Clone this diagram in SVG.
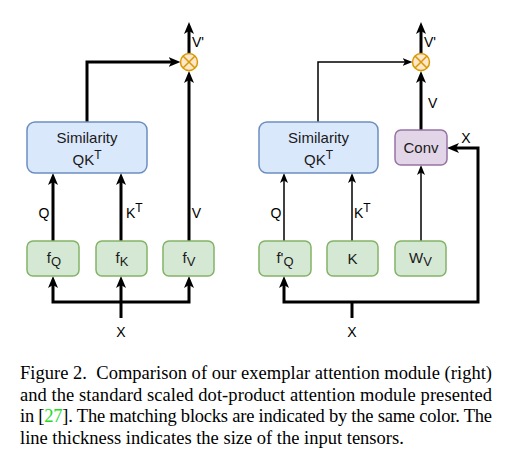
<svg xmlns="http://www.w3.org/2000/svg" width="514" height="459" viewBox="0 0 514 459">
<defs>
<style>
.bl{fill:#dae8fc;stroke:#6c8ebf;stroke-width:1.5}
.gr{fill:#d5e8d4;stroke:#82b366;stroke-width:1.5}
.pu{fill:#e1d5e7;stroke:#9673a6;stroke-width:1.5}
.op{fill:#ffe6cc;stroke:#d79b00;stroke-width:1.5}
.t{font-family:"Liberation Sans",Arial,sans-serif;font-size:15px;fill:#1a1a1a;text-anchor:middle}
.lb{font-family:"Liberation Sans",Arial,sans-serif;font-size:14px;fill:#000}
.th{fill:none;stroke:#000;stroke-width:3}
.tn{fill:none;stroke:#000;stroke-width:1.5}
.ah{marker-end:url(#aT)}
.an{marker-end:url(#aN)}
.cap{font-family:"Liberation Serif","Times New Roman",serif;font-size:18.5px;fill:#000}
</style>
<marker id="aT" viewBox="0 0 12 10" markerWidth="12" markerHeight="10" refX="6" refY="5" orient="auto" markerUnits="userSpaceOnUse"><path d="M0,0 L12,5 L0,10 L3,5 Z" fill="#000"/></marker>
<marker id="aN" viewBox="0 0 10 8" markerWidth="10" markerHeight="8" refX="5" refY="4" orient="auto" markerUnits="userSpaceOnUse"><path d="M0,0 L10,4 L0,8 L2.5,4 Z" fill="#000"/></marker>
</defs>
<rect width="514" height="459" fill="#fff"/>

<g id="connectors">
<path class="th ah" d="M53,241 V179"/>
<path class="th ah" d="M121,241 V179"/>
<path class="th ah" d="M189,241 V77"/>
<path class="th ah" d="M87,122 V62 H174.5"/>
<path class="th ah" d="M189,53.5 V28"/>
<path class="th ah" d="M121,318 V282"/>
<path class="th ah" d="M121,302 H53 V282"/>
<path class="th ah" d="M121,302 H189 V282"/>
<path class="tn an" d="M284,241 V178"/>
<path class="tn an" d="M352,241 V178"/>
<path class="tn an" d="M421,241 V170"/>
<path class="tn an" d="M318,122 V62 H407.5"/>
<path class="th ah" d="M421,130 V77"/>
<path class="th ah" d="M421,53.5 V28"/>
<path class="th" d="M352,318 V302"/>
<path class="th ah" d="M352,302 H284 V282"/>
<path class="th ah" d="M352,302 H478 V148 H453"/>
</g>

<g id="labels">
<text class="lb" x="44" y="218" text-anchor="middle">Q</text>
<text class="lb" x="126" y="218">K<tspan font-size="12" dy="-6">T</tspan></text>
<text class="lb" x="196.5" y="218" text-anchor="middle">V</text>
<text class="lb" x="192" y="47" font-size="13">V'</text>
<text class="lb" x="121" y="337" text-anchor="middle" font-size="15">X</text>
<text class="lb" x="276" y="218" text-anchor="middle">Q</text>
<text class="lb" x="354" y="218">K<tspan font-size="12" dy="-6">T</tspan></text>
<text class="lb" x="428" y="108">V</text>
<text class="lb" x="424" y="47" font-size="13">V'</text>
<text class="lb" x="466" y="143" text-anchor="middle" font-size="15">X</text>
<text class="lb" x="352" y="337" text-anchor="middle" font-size="15">X</text>
</g>

<g id="sim-left">
<rect class="bl" x="27" y="122" width="120" height="51" rx="8"/>
<text class="t" x="87" y="143">Similarity</text>
<text class="t" x="87" y="165">QK<tspan font-size="12" dy="-6">T</tspan></text>
</g>
<g id="fq">
<rect class="gr" x="27" y="241" width="52" height="35" rx="6"/>
<text class="t" x="54" y="263">f<tspan font-size="13" dy="3">Q</tspan></text>
</g>
<g id="fk">
<rect class="gr" x="96" y="241" width="51" height="35" rx="6"/>
<text class="t" x="122" y="263">f<tspan font-size="13" dy="3">K</tspan></text>
</g>
<g id="fv">
<rect class="gr" x="163" y="241" width="51" height="35" rx="6"/>
<text class="t" x="189" y="263">f<tspan font-size="13" dy="3">V</tspan></text>
</g>
<g id="mul-left">
<circle class="op" cx="189" cy="62" r="8.5"/>
<path d="M183,56 L195,68 M195,56 L183,68" stroke="#d79b00" stroke-width="1.5"/>
</g>

<g id="sim-right">
<rect class="bl" x="259" y="122" width="119" height="51" rx="8"/>
<text class="t" x="318.5" y="143">Similarity</text>
<text class="t" x="318.5" y="165">QK<tspan font-size="12" dy="-6">T</tspan></text>
</g>
<g id="fpq">
<rect class="gr" x="259" y="241" width="52" height="35" rx="6"/>
<text class="t" x="285" y="263">f'<tspan font-size="13" dy="3">Q</tspan></text>
</g>
<g id="k">
<rect class="gr" x="327" y="241" width="51" height="35" rx="6"/>
<text class="t" x="352.5" y="264">K</text>
</g>
<g id="wv">
<rect class="gr" x="395" y="241" width="51" height="35" rx="6"/>
<text class="t" x="420.5" y="263">W<tspan font-size="13" dy="3">V</tspan></text>
</g>
<g id="conv">
<rect class="pu" x="395" y="130" width="52" height="35" rx="6"/>
<text class="t" x="421" y="153">Conv</text>
</g>
<g id="mul-right">
<circle class="op" cx="421" cy="62" r="8.5"/>
<path d="M415,56 L427,68 M427,56 L415,68" stroke="#d79b00" stroke-width="1.5"/>
</g>

<g id="caption">
<text class="cap" x="20" y="379" textLength="472" lengthAdjust="spacing" xml:space="preserve">Figure 2.  Comparison of our exemplar attention module (right)</text>
<text class="cap" x="20" y="400.5" textLength="472" lengthAdjust="spacing">and the standard scaled dot-product attention module presented</text>
<text class="cap" x="20" y="422" textLength="472" lengthAdjust="spacing">in [<tspan fill="#22dd22">27</tspan>]. The matching blocks are indicated by the same color. The</text>
<text class="cap" x="20" y="443.5">line thickness indicates the size of the input tensors.</text>
</g>
</svg>
